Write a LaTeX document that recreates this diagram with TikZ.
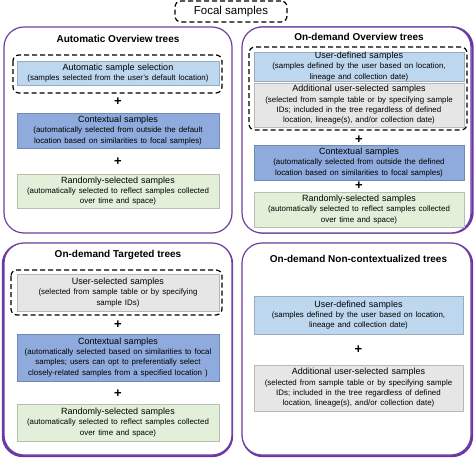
\documentclass[tikz,border=0pt]{standalone}
\usepackage{fontspec}
\setmainfont{Liberation Sans}
\begin{document}
\begin{tikzpicture}[x=1pt,y=-1pt,
  frame/.style={draw=framec, line width=1.2pt, fill=white, rounded corners=20pt},
  shadowf/.style={draw=framesh, line width=2.4pt, rounded corners=20pt},
  dashbox/.style={draw=black, line width=1.2pt, dash pattern=on 5pt off 3pt, rounded corners=6pt},
  sbox/.style={draw=#1!80!black, line width=0.4pt, fill=#1, inner sep=0pt, align=center,
     font=\fontsize{9}{10.5}\selectfont},
  title/.style={font=\bfseries\fontsize{10}{12}\selectfont, inner sep=0pt},
  plus/.style={font=\bfseries\fontsize{13}{13}\selectfont, inner sep=0pt}
]
\definecolor{framec}{HTML}{7040A0}
\definecolor{framesh}{HTML}{6A35A8}
\definecolor{lb}{HTML}{BDD7EE}
\definecolor{cb}{HTML}{8FAADC}
\definecolor{gr}{HTML}{E2F0D9}
\definecolor{gy}{HTML}{E7E6E6}
\newcommand{\sm}[1]{{\fontsize{7.9}{10.3}\selectfont #1}}
\useasboundingbox (0,0) rectangle (474,458);

% focal samples
\node[dashbox, minimum width=112pt, minimum height=21pt, inner sep=0pt,
  font=\fontsize{11.5}{12}\selectfont] (focal) at (231,11.5) {Focal samples};

% ---------- frames ----------
\draw[shadowf] (243.5,27.5) rectangle (472.5,232.5);
\draw[shadowf] (3,244) rectangle (232,456);
\draw[shadowf] (243,244) rectangle (472,456);
\draw[frame] (4,27) rectangle (232,233);
\draw[frame] (242,27) rectangle (471,233);
\draw[frame] (4,243) rectangle (232,455);
\draw[frame] (242,243) rectangle (471,455);

% ---------- top-left ----------
\node[title] (t1) at (118,39) {Automatic Overview trees};
\draw[dashbox] (13,55) rectangle (222,93);
\node[sbox=lb, minimum width=202pt, minimum height=24pt, text width=200pt] (a1) at (118,73)
  {Automatic sample selection\\ \sm{(samples selected from the user's default location)}};
\node[plus] (p1) at (118,102) {+};
\node[sbox=cb, minimum width=202pt, minimum height=35pt, text width=200pt] (a2) at (118,130.5)
  {Contextual samples\\ \sm{(automatically selected from outside the default\\ location based on similarities to focal samples)}};
\node[plus] (p2) at (118,162) {+};
\node[sbox=gr, minimum width=202pt, minimum height=34pt, text width=200pt] (a3) at (118,191)
  {Randomly-selected samples\\ \sm{(automatically selected to reflect samples collected\\ over time and space)}};

% ---------- top-right ----------
\node[title] (t2) at (359,37) {On-demand Overview trees};
\draw[dashbox] (249,47) rectangle (467,130);
\node[sbox=lb, minimum width=210pt, minimum height=29pt, text width=208pt] (b1) at (359,66.5)
  {User-defined samples\\ \sm{(samples defined by the user based on location,\\ lineage and collection date)}};
\node[sbox=gy, minimum width=210pt, minimum height=44pt, text width=208pt] (b2) at (359,105)
  {Additional user-selected samples\\ \sm{(selected from sample table or by specifying sample\\ IDs; included in the tree regardless of defined\\ location, lineage(s), and/or collection date)}};
\node[plus] (p3) at (359,140) {+};
\node[sbox=cb, minimum width=210pt, minimum height=35pt, text width=208pt] (b3) at (359,162.5)
  {Contextual samples\\ \sm{(automatically selected from outside the defined\\ location based on similarities to focal samples)}};
\node[plus] (p4) at (359,186) {+};
\node[sbox=gr, minimum width=210pt, minimum height=35pt, text width=208pt] (b4) at (359,209.5)
  {Randomly-selected samples\\ \sm{(automatically selected to reflect samples collected\\ over time and space)}};

% ---------- bottom-left ----------
\node[title] (t3) at (118,255) {On-demand Targeted trees};
\draw[dashbox] (11,270) rectangle (222,315);
\node[sbox=gy, minimum width=202pt, minimum height=37pt, text width=200pt] (c1) at (118,292.5)
  {User-selected samples\\ \sm{(selected from sample table or by specifying\\ sample IDs)}};
\node[plus] (p5) at (118,325) {+};
\node[sbox=cb, minimum width=202pt, minimum height=47pt, text width=200pt] (c2) at (118,357.5)
  {Contextual samples\\ \sm{(automatically selected based on similarities to focal\\ samples; users can opt to preferentially select\\ closely-related samples from a specified location )}};
\node[plus] (p6) at (118,394) {+};
\node[sbox=gr, minimum width=202pt, minimum height=37pt, text width=200pt] (c3) at (118,422.5)
  {Randomly-selected samples\\ \sm{(automatically selected to reflect samples collected\\ over time and space)}};

% ---------- bottom-right ----------
\node[title] (t4) at (358.5,259) {On-demand Non-contextualized trees};
\node[sbox=lb, minimum width=209pt, minimum height=38pt, text width=207pt] (d1) at (358.5,315)
  {User-defined samples\\ \sm{(samples defined by the user based on location,\\ lineage and collection date)}};
\node[plus] (p7) at (358.5,350) {+};
\node[sbox=gy, minimum width=209pt, minimum height=46pt, text width=207pt] (d2) at (358.5,388)
  {Additional user-selected samples\\ \sm{(selected from sample table or by specifying sample\\ IDs; included in the tree regardless of defined\\ location, lineage(s), and/or collection date)}};
\end{tikzpicture}
\end{document}
